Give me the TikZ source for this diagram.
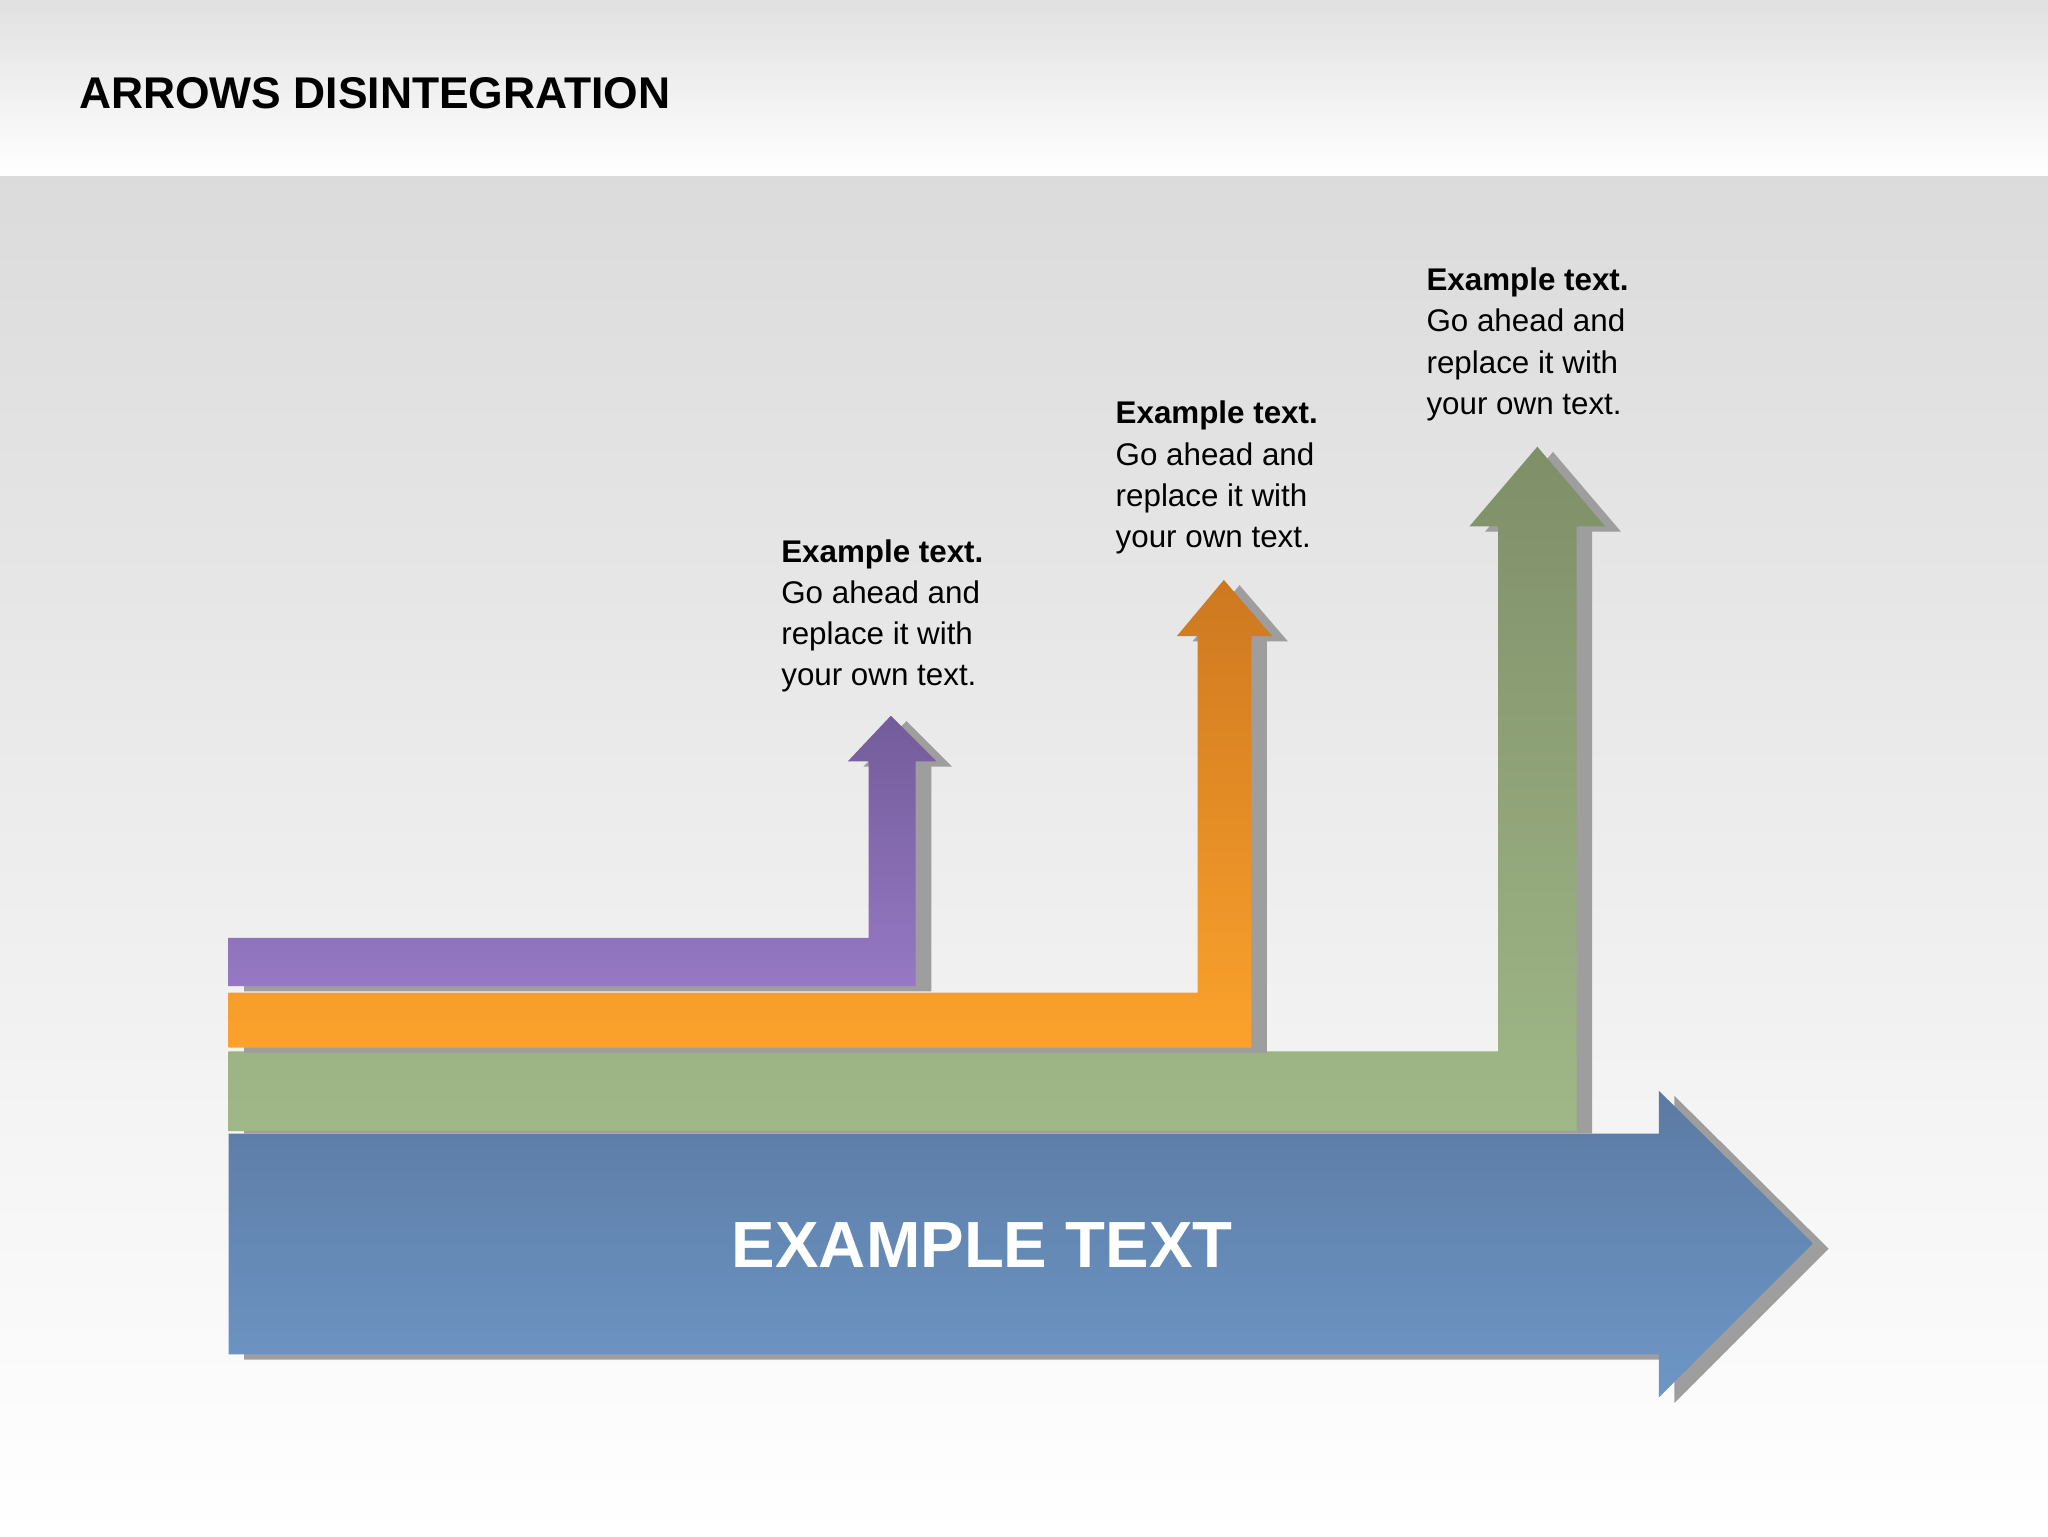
\documentclass[tikz,border=0pt]{standalone}
\usepackage{fontspec}
\setmainfont{Liberation Sans}
\begin{document}
\begin{tikzpicture}[x=1pt,y=-1pt,
  txt/.style={anchor=north west,align=left,font=\fontsize{24}{31.5}\selectfont,inner sep=0pt},
  shad/.style={fill=black!38}]
\useasboundingbox (0,0) rectangle (1568,1176);
\shade[top color=black!12,bottom color=white] (0,0) rectangle (1568,135);
\shade[top color=black!14,bottom color=white] (0,135) rectangle (1568,1176);
\node[anchor=west,font=\fontsize{34}{36}\selectfont\bfseries] (title) at (57,71) {ARROWS DISINTEGRATION};
% blue
\fill[shad] (187,872)--(1282,872)--(1282,839)--(1400,956)--(1282,1074)--(1282,1041)--(187,1041)--cycle;
\shade[top color=blue!30!black!50!cyan!40!white!0!blue!0!black!0, top color={rgb,255:red,91;green,122;blue,163}, bottom color={rgb,255:red,110;green,151;blue,198}]
 (175,868)--(1270,868)--(1270,835)--(1388,952)--(1270,1070)--(1270,1037)--(175,1037)--cycle;
\node[text=white,font=\fontsize{50}{52}\selectfont\bfseries] (main) at (752,953) {EXAMPLE TEXT};
% green
\fill[shad] (187,809)--(1159,809)--(1159,407)--(1137,407)--(1189,346)--(1241,407)--(1219,407)--(1219,868)--(187,868)--cycle;
\shade[top color={rgb,255:red,127;green,143;blue,104}, bottom color={rgb,255:red,160;green,184;blue,136}]
 (175,805)--(1147,805)--(1147,403)--(1125,403)--(1177,342)--(1229,403)--(1207,403)--(1207,866)--(175,866)--cycle;
% orange
\fill[shad] (187,764)--(929,764)--(929,491)--(913,491)--(949,448)--(986,491)--(970,491)--(970,806)--(187,806)--cycle;
\shade[top color={rgb,255:red,205;green,120;blue,32}, bottom color={rgb,255:red,251;green,162;blue,44}]
 (175,760)--(917,760)--(917,487)--(901,487)--(937,444)--(974,487)--(958,487)--(958,802)--(175,802)--cycle;
% purple
\fill[shad] (187,722)--(677,722)--(677,587)--(661,587)--(694,552)--(729,587)--(713,587)--(713,759)--(187,759)--cycle;
\shade[top color={rgb,255:red,115;green,92;blue,154}, bottom color={rgb,255:red,150;green,120;blue,196}]
 (175,718)--(665,718)--(665,583)--(649,583)--(682,548)--(717,583)--(701,583)--(701,755)--(175,755)--cycle;
% texts
\node[txt] (t1) at (598,413) {\textbf{Example text.}\\Go ahead and\\replace it with\\your own text.};
\node[txt] (t2) at (854,307) {\textbf{Example text.}\\Go ahead and\\replace it with\\your own text.};
\node[txt] (t3) at (1092,205) {\textbf{Example text.}\\Go ahead and\\replace it with\\your own text.};
\end{tikzpicture}
\end{document}
